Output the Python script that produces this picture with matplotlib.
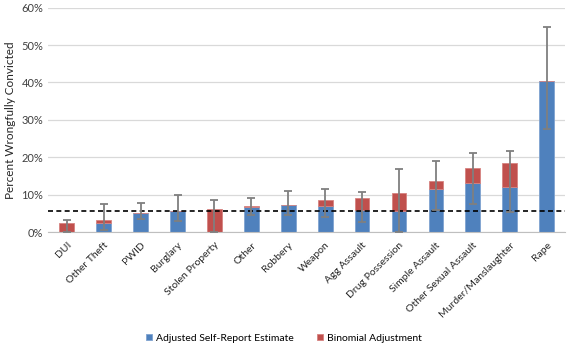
import matplotlib.pyplot as plt
from matplotlib.ticker import PercentFormatter

plt.rcParams["font.family"] = ["Lato", "DejaVu Sans"]

categories = ["DUI", "Other Theft", "PWID", "Burglary", "Stolen Property", "Other",
              "Robbery", "Weapon", "Agg Assault", "Drug Possession", "Simple Assault",
              "Other Sexual Assault", "Murder/Manslaughter", "Rape"]
# adjusted self-report estimate (blue part), %
self_report = [0.0, 2.5, 5.2, 5.6, 0.0, 6.6, 7.3, 7.1, 5.8, 5.7, 11.4, 13.2, 12.0, 40.4]
# total after binomial adjustment (top of red part), %
total = [2.4, 3.2, 5.2, 5.6, 6.1, 7.1, 7.3, 8.7, 9.0, 10.5, 13.6, 17.1, 18.5, 40.4]
err_low = [0.0, 0.5, 3.5, 3.1, 0.0, 4.5, 4.7, 4.1, 2.7, 0.0, 6.0, 7.6, 5.3, 27.6]
err_high = [3.2, 7.4, 7.9, 9.9, 8.7, 9.2, 11.1, 11.6, 10.6, 16.8, 19.1, 21.1, 21.8, 54.8]
threshold = 5.6

blue = "#4F81BD"
red = "#C0504D"

fig = plt.figure(figsize=(5.68, 3.47), dpi=100)
ax = fig.add_axes([0.085, 0.331, 0.91, 0.647])

x = list(range(len(categories)))
binomial = [t - s for t, s in zip(total, self_report)]
ax.bar(x, self_report, width=0.4, color=blue, edgecolor="#7FA3D0", linewidth=0.6,
       label="Adjusted Self-Report Estimate", zorder=2)
ax.bar(x, binomial, width=0.4, bottom=self_report, color=red, edgecolor="#D68380",
       linewidth=0.6, label="Binomial Adjustment", zorder=2)

# error bars
mid = [(lo + hi) / 2 for lo, hi in zip(err_low, err_high)]
yerr = [[m - lo for m, lo in zip(mid, err_low)], [hi - m for m, hi in zip(mid, err_high)]]
ax.errorbar(x, mid, yerr=yerr, fmt="none", ecolor="#7F7F7F", elinewidth=1.3,
            capsize=3, capthick=1.3, zorder=4)

ax.axhline(threshold, color="black", linestyle=(0, (3, 2)), linewidth=1.2, zorder=3)

ax.set_xlim(-0.5, len(categories) - 0.5)
ax.set_ylim(0, 60)
ax.set_yticks(range(0, 61, 10))
ax.yaxis.set_major_formatter(PercentFormatter(decimals=0))
ax.grid(axis="y", color="#D9D9D9", linewidth=0.9, zorder=0)
ax.set_axisbelow(True)
for s in ["top", "right", "left"]:
    ax.spines[s].set_visible(False)
ax.spines["bottom"].set_color("#BFBFBF")
ax.tick_params(axis="y", length=0, labelsize=8, colors="#404040")
ax.tick_params(axis="x", length=0, labelsize=7.5, colors="#262626", pad=6)
ax.set_xticks(x)
ax.set_xticklabels(categories, rotation=45, ha="right", rotation_mode="anchor")
ax.set_ylabel("Percent Wrongfully Convicted", fontsize=8.5, color="#262626")

fig.legend(loc="center", bbox_to_anchor=(0.5, 0.025), ncol=2, frameon=False,
           fontsize=7.5, handlelength=0.6, handleheight=0.6, columnspacing=2.2,
           handletextpad=0.4)

fig.savefig("out.png", dpi=100)
